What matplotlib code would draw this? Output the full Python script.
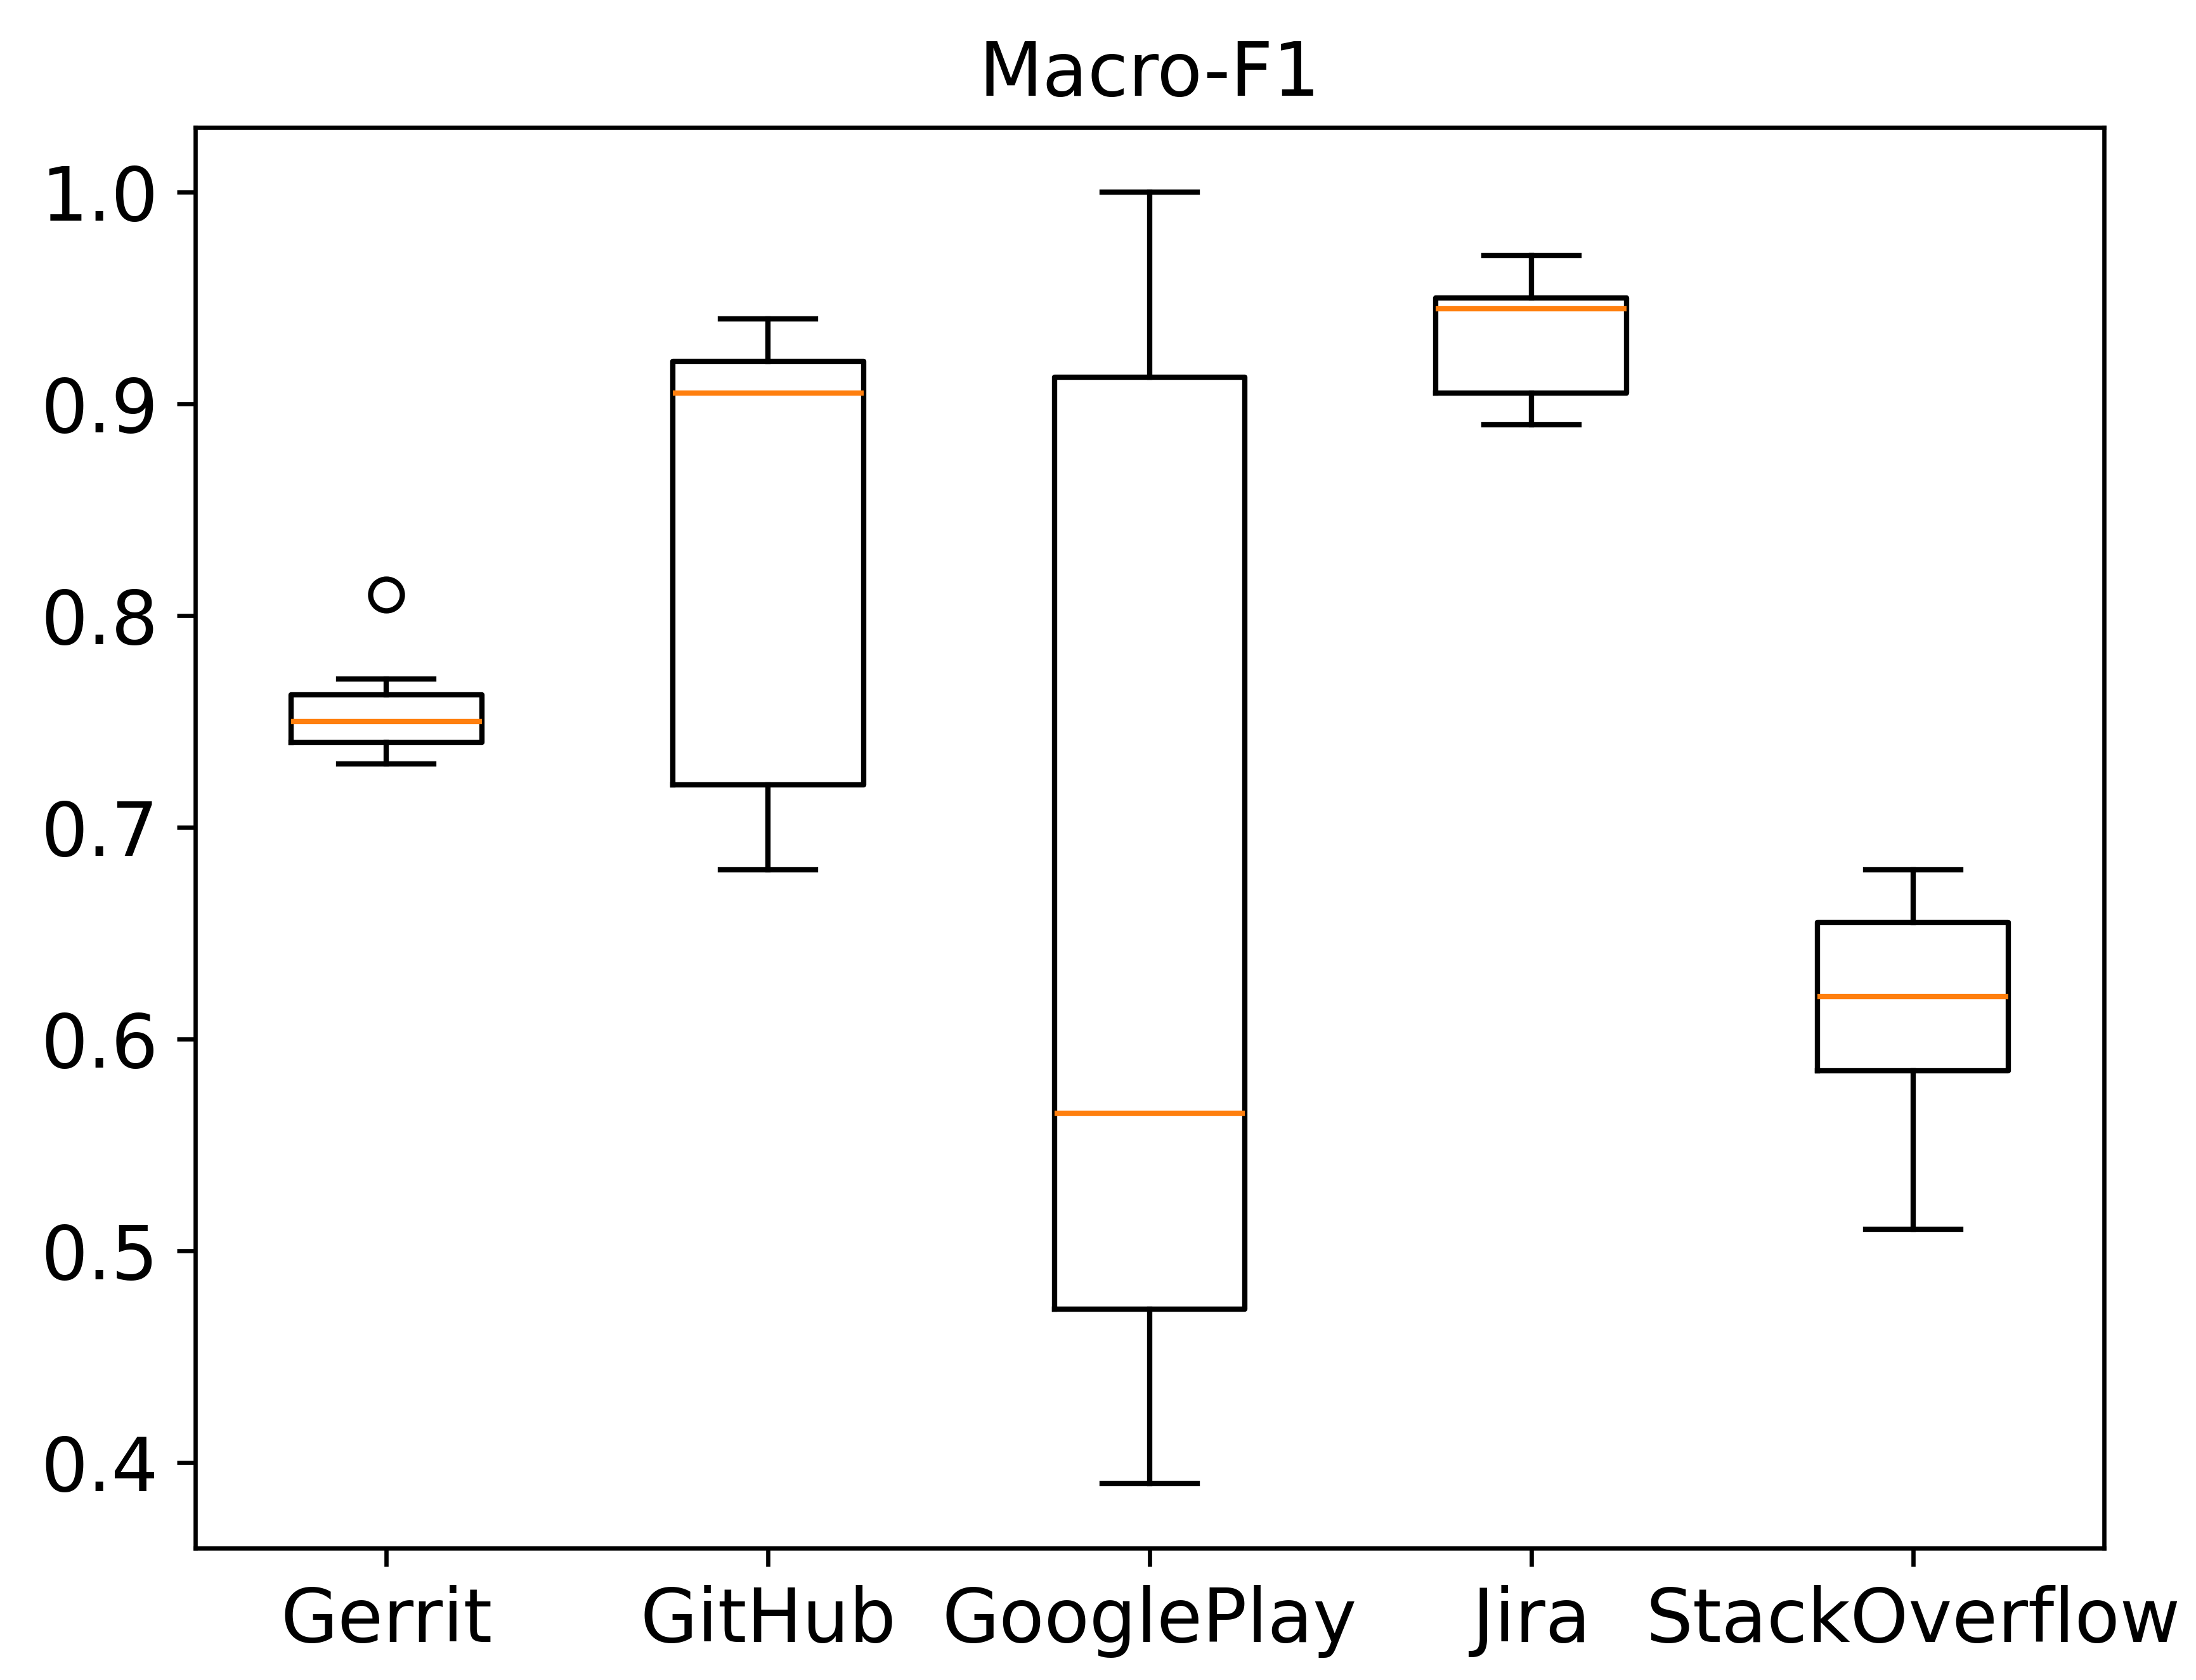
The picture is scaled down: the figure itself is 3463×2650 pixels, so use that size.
import matplotlib
matplotlib.use("Agg")
import matplotlib.pyplot as plt

# box statistics
labels = ["Gerrit", "GitHub", "GooglePlay", "Jira", "StackOverflow"]
whislo = [0.73, 0.68, 0.39, 0.89, 0.51]
q1 = [0.74, 0.72, 0.4725, 0.905, 0.585]
med = [0.75, 0.905, 0.565, 0.945, 0.62]
q3 = [0.7625, 0.92, 0.9125, 0.95, 0.655]
whishi = [0.77, 0.94, 1.0, 0.97, 0.68]
fliers = [[0.81], [], [], [], []]

stats = []
for i in range(len(labels)):
    stats.append({
        "label": labels[i],
        "whislo": whislo[i],
        "q1": q1[i],
        "med": med[i],
        "q3": q3[i],
        "whishi": whishi[i],
        "fliers": fliers[i],
    })

fig, ax = plt.subplots(figsize=(5.772, 4.417))
fig.subplots_adjust(left=0.089, right=0.958, bottom=0.0785, top=0.924)
ax.bxp(stats)
ax.set_title("Macro-F1", fontsize=14)
ax.tick_params(labelsize=14)

fig.savefig("out.png", dpi=600)
